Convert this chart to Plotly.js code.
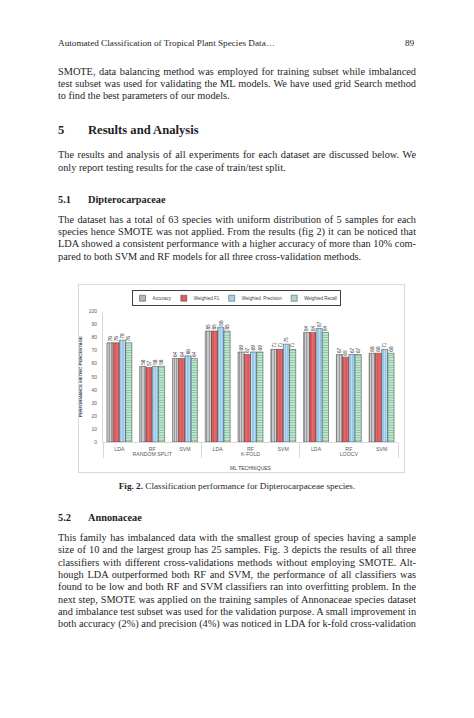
<!DOCTYPE html>
<html>
<head>
<meta charset="utf-8">
<script src="https://cdn.plot.ly/plotly-3.0.1.min.js"></script>
<style>
  html, body { margin:0; padding:0; background:#fff; }
  body { width:474px; height:718px; position:relative; overflow:hidden; font-family:"Liberation Serif","Times New Roman",serif; color:#1e1e1e; }
  .ln { position:absolute; left:58px; width:358px; font-size:10.3px; line-height:12.3px; white-space:nowrap; text-align:justify; text-align-last:justify; }
  .ln.last { text-align-last:left; }
  .hdr { position:absolute; font-size:9.2px; line-height:11px; white-space:nowrap; }
  .h1 { position:absolute; font-weight:bold; font-size:12.6px; line-height:14px; white-space:nowrap; }
  .h2 { position:absolute; font-weight:bold; font-size:10.3px; line-height:12px; white-space:nowrap; }
  .cap { position:absolute; left:0; width:474px; text-align:center; font-size:9.2px; line-height:11px; white-space:nowrap; }
  #box { position:absolute; left:78px; top:284px; width:327px; height:189px; border:1px solid #d9d9d9; box-sizing:border-box; overflow:hidden; }
  #chart { position:absolute; left:-1px; top:-1px; width:654px; height:378px; transform:scale(0.5); transform-origin:0 0; }
</style>
</head>
<body>
<div class="hdr" style="left:58px;top:37.5px;">Automated Classification of Tropical Plant Species Data…</div>
<div class="hdr" style="left:405px;top:37.5px;">89</div>

<div class="ln" style="top:65.5px;">SMOTE, data balancing method was employed for training subset while imbalanced</div>
<div class="ln" style="top:77.8px;">test subset was used for validating the ML models. We have used grid Search method</div>
<div class="ln last" style="top:90.1px;">to find the best parameters of our models.</div>

<div class="h1" style="left:58px;top:122.5px;">5</div>
<div class="h1" style="left:88px;top:122.5px;">Results and Analysis</div>

<div class="ln" style="top:149.2px;">The results and analysis of all experiments for each dataset are discussed below. We</div>
<div class="ln last" style="top:161.5px;">only report testing results for the case of train/test split.</div>

<div class="h2" style="left:58px;top:193.5px;">5.1</div>
<div class="h2" style="left:88px;top:193.5px;">Dipterocarpaceae</div>

<div class="ln" style="top:213.5px;">The dataset has a total of 63 species with uniform distribution of 5 samples for each</div>
<div class="ln" style="top:225.8px;">species hence SMOTE was not applied. From the results (fig 2) it can be noticed that</div>
<div class="ln" style="top:238.1px;">LDA showed a consistent performance with a higher accuracy of more than 10% com-</div>
<div class="ln last" style="top:250.5px;">pared to both SVM and RF models for all three cross-validation methods.</div>

<div id="box"><div id="chart"></div></div>

<div class="cap" style="top:481px;"><b>Fig. 2.</b> Classification performance for Dipterocarpaceae species.</div>

<div class="h2" style="left:58px;top:511.5px;">5.2</div>
<div class="h2" style="left:88px;top:511.5px;">Annonaceae</div>

<div class="ln" style="top:531.8px;">This family has imbalanced data with the smallest group of species having a sample</div>
<div class="ln" style="top:544.1px;">size of 10 and the largest group has 25 samples. Fig. 3 depicts the results of all three</div>
<div class="ln" style="top:556.5px;">classifiers with different cross-validations methods without employing SMOTE. Alt-</div>
<div class="ln" style="top:568.8px;">hough LDA outperformed both RF and SVM, the performance of all classifiers was</div>
<div class="ln" style="top:581.1px;">found to be low and both RF and SVM classifiers ran into overfitting problem. In the</div>
<div class="ln" style="top:593.5px;">next step, SMOTE was applied on the training samples of Annonaceae species dataset</div>
<div class="ln" style="top:605.8px;">and imbalance test subset was used for the validation purpose. A small improvement in</div>
<div class="ln" style="top:618.1px;">both accuracy (2%) and precision (4%) was noticed in LDA for k-fold cross-validation</div>

<script>
const validationMethods = ['RANDOM SPLIT','RANDOM SPLIT','RANDOM SPLIT','K-FOLD','K-FOLD','K-FOLD','LOOCV','LOOCV','LOOCV'];
const techniques = ['LDA','RF','SVM','LDA','RF','SVM','LDA','RF','SVM'];
const accuracy          = [76, 58, 64, 85, 69, 71, 84, 67, 68];
const weightedF1        = [76, 57, 64, 85, 67, 71, 84, 65, 68];
const weightedPrecision = [78, 58, 66, 88, 69, 75, 87, 67, 71];
const weightedRecall    = [76, 58, 64, 85, 69, 71, 84, 67, 68];
const seriesNames = ['Accuracy', 'Weighted F1', 'Weighted  Precision', 'Weighted Recall'];
const yTickVals = [0,10,20,30,40,50,60,70,80,90,100];

const seriesValues = [accuracy, weightedF1, weightedPrecision, weightedRecall];
const styles = [
  {bg:'#cfcfcf', fg:'#7a7a7a', shape:'|', size:5, sol:0.3},
  {bg:'#ec6668', fg:'#9c3a3b', shape:'|', size:7, sol:0.15},
  {bg:'#93c6ea', fg:'#c8e4f6', shape:'|', size:5, sol:0.35},
  {bg:'#bfe9d0', fg:'#6fae8a', shape:'-', size:5, sol:0.25}
];

const traces = seriesValues.map((vals, i) => ({
  type:'bar',
  name: seriesNames[i],
  x: [validationMethods, techniques],
  y: vals,
  text: vals.map(v => String(v)),
  textposition:'outside',
  textangle:-90,
  constraintext:'none',
  cliponaxis:false,
  textfont:{size:9.5, color:'#404040', family:'Liberation Sans, Arial, sans-serif'},
  marker:{
    color: styles[i].bg,
    line:{color:'#3c3c3c', width:1},
    pattern:{shape:styles[i].shape, fgcolor:styles[i].fg, bgcolor:styles[i].bg, size:styles[i].size, solidity:styles[i].sol}
  },
  hoverinfo:'skip'
}));

const layout = {
  width:654, height:378,
  margin:{l:50, r:14, t:50, b:62, pad:0},
  paper_bgcolor:'#ffffff', plot_bgcolor:'#ffffff',
  barmode:'group', bargap:0.24, bargroupgap:0,
  font:{family:'Liberation Sans, Arial, sans-serif', size:10, color:'#595959'},
  showlegend:true,
  legend:{
    orientation:'h', x:0.451, xanchor:'center', y:1.165, yanchor:'top',
    bordercolor:'#404040', borderwidth:2, bgcolor:'#ffffff',
    font:{size:9, color:'#404040'}, itemwidth:30, traceorder:'normal'
  },
  xaxis:{
    type:'multicategory',
    showline:true, linecolor:'#d9d9d9', linewidth:2,
    showdividers:true, dividercolor:'#d9d9d9', dividerwidth:2,
    ticks:'', ticklabelstandoff:4, tickfont:{size:10.5, color:'#595959'},
    showgrid:false, zeroline:false,
    title:{text:'ML TECHNIQUES', font:{size:10, color:'#404040'}, standoff:20},
    automargin:false
  },
  yaxis:{
    range:[0,100], tickvals:yTickVals, ticktext:yTickVals.map(String),
    showline:true, linecolor:'#d9d9d9', linewidth:2,
    ticks:'', ticklabelstandoff:8,
    tickfont:{size:10, color:'#595959'},
    showgrid:false, zeroline:false,
    title:{text:'<b>PERFORMANCE METRIC PERCENTAGE</b>', font:{size:8.5, color:'#404040'}, standoff:12},
    automargin:false
  }
};

Plotly.newPlot('chart', traces, layout, {displayModeBar:false, staticPlot:true});
</script>
</body>
</html>
